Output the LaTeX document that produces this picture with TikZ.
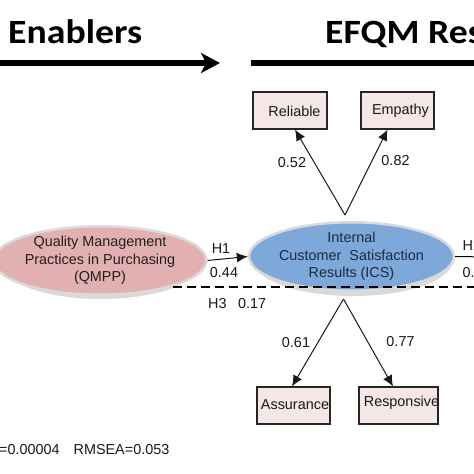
\documentclass[tikz,border=0pt]{standalone}
\usepackage{fontspec}
\setmainfont{Liberation Sans}
\newfontfamily\titlefont{Carlito}
\usetikzlibrary{shapes.geometric,arrows.meta,calc}
\definecolor{pinkfill}{HTML}{E2B0B1}
\definecolor{bluefill}{HTML}{7FA8DA}
\definecolor{boxfill}{HTML}{F6E7E7}
\definecolor{navytext}{HTML}{1B2A44}
\definecolor{halo}{HTML}{DADADA}
\begin{document}
\begin{tikzpicture}[x=1pt,y=-1pt,
  every node/.style={font=\fontsize{14.4}{17.5}\selectfont, text=black!90},
  latent/.style={ellipse, inner sep=0pt, minimum width=194pt, minimum height=66pt,
    draw=halo, line width=2.5pt, align=center},
  shadowfill/.style={fill=gray!30},
  indicator/.style={rectangle, draw=black!85, line width=1.1pt, fill=boxfill,
    minimum height=37pt, inner sep=0pt},
  boxtext/.style={inner sep=0pt},
  pathline/.style={line width=1pt, draw=black!90, -{Latex[length=11pt,width=10pt]}},
  lbl/.style={inner sep=0pt},
  bigarrow/.style={line width=5.5pt, -{Stealth[length=19pt,width=20pt,inset=5pt]}},
  titletext/.style={anchor=base west, inner sep=0pt,
    font=\titlefont\bfseries\fontsize{34}{40}\selectfont, text=black},
  h3line/.style={line width=2.4pt, dash pattern=on 9pt off 5pt}
]
\useasboundingbox (0,0) rectangle (474,474);
\clip (0,0) rectangle (474,474);
\fill[white] (0,0) rectangle (474,474);

% titles
\node[titletext] (en) at (8,43.3) {\scalebox{1.11}[1]{Enablers}};
\node[titletext] (ef) at (325,43.3) {\scalebox{1.11}[1]{EFQM Results}};
\coordinate (al) at (-10,63);
\coordinate (ar) at (220,63);
\coordinate (bl) at (251,63);
\coordinate (br) at (490,63);
\draw[bigarrow] (al) -- (ar);
\draw[line width=5.5pt] (bl) -- (br);

% shadows of ellipses
\fill[shadowfill] (101,263) ellipse [x radius=100pt, y radius=36pt];
\fill[shadowfill] (353,260) ellipse [x radius=100pt, y radius=36pt];

% latent variables
\node[latent, fill=pinkfill, text=black!88] (qmpp) at (100,260.5)
  {Quality Management\\Practices in Purchasing\\(QMPP)};
\node[latent, fill=bluefill, text=navytext] (ics) at (351.5,256.5)
  {Internal\\Customer~~Satisfaction\\Results (ICS)};

% indicators
\node[indicator, minimum width=74pt] (rel) at (290,110.5) {};
\node[boxtext] at (294.5,111) {Reliable};
\node[indicator, minimum width=73pt] (emp) at (397.5,110.5) {};
\node[boxtext] at (400.5,111) {Empathy};
\node[indicator, minimum width=73pt] (ass) at (293.5,405.5) {};
\node[boxtext] at (295,405) {Assurance};
\node[indicator, minimum width=79pt] (res) at (398.5,405.5) {};
\node[boxtext] at (401.5,403) {Responsive};

% apex points of the indicator paths
\coordinate (topv) at (345,215);
\coordinate (botv) at (343.5,299);
\draw[pathline] (topv) -- ([xshift=5pt]rel.south);
\draw[pathline] (topv) -- ([xshift=-10pt]emp.south);
\draw[pathline] (botv) -- ([xshift=-1.5pt]ass.north);
\draw[pathline] (botv) -- ([xshift=-5.5pt]res.north);

\node[lbl] at (292,162.5) {0.52};
\node[lbl] at (395.5,160.5) {0.82};
\node[lbl] at (296,342.5) {0.61};
\node[lbl] at (400.5,342) {0.77};

% structural paths
\draw[pathline] (qmpp.east) -- (ics.west);
\node[lbl, anchor=base] at (221,253) {H1};
\node[lbl, anchor=base] at (224,277) {0.44};

\coordinate (h3s) at (173,287);
\coordinate (h3e) at (490,287);
\draw[h3line] (h3s) -- (h3e);
\node[lbl, anchor=base west] at (208,308) {H3};
\node[lbl, anchor=base west] at (238,308) {0.17};

\coordinate (h2e) at (490,257);
\draw[line width=1pt] (ics.east) -- (h2e);
\node[lbl, anchor=base west] at (462.5,250) {H2};
\node[lbl, anchor=base west] at (462.5,277) {0.};

\coordinate (inl) at (-40,259);
\draw[pathline] (inl) -- (qmpp.west);

% fit indices
\node[lbl, anchor=base west] (fit) at (-1,454) {=0.00004\hspace{14pt}RMSEA=0.053};
\end{tikzpicture}
\end{document}
